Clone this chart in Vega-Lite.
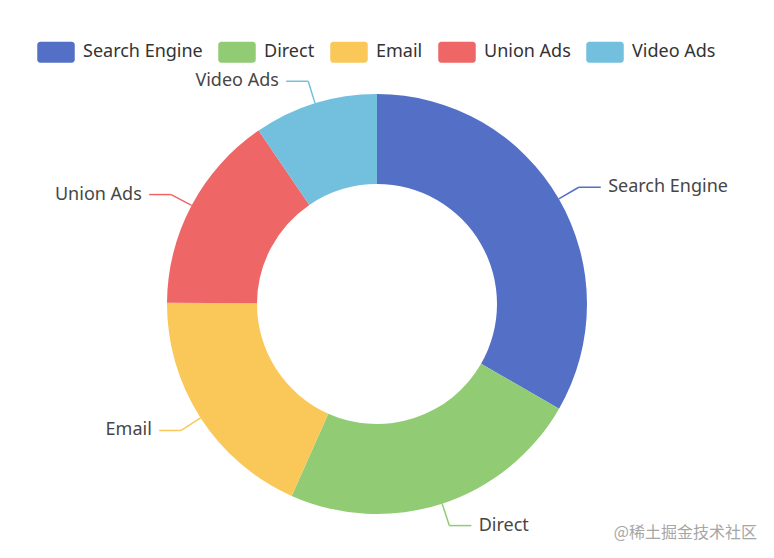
{
  "$schema": "https://vega.github.io/schema/vega-lite/v6.json",
  "description": "Doughnut chart of traffic sources with outside labels",
  "autosize": "none",
  "width": 754,
  "height": 508,
  "padding": {"left": 0, "top": 50, "right": 20, "bottom": 0},
  "background": "white",
  "config": {
    "view": {"stroke": null},
    "font": "Noto Sans",
    "legend": {
      "orient": "none",
      "direction": "horizontal",
      "legendX": 37,
      "legendY": -17,
      "padding": 0,
      "title": null,
      "symbolType": "M-0.84,-0.56H0.84A0.16,0.16 0 0 1 1,-0.4V0.4A0.16,0.16 0 0 1 0.84,0.56H-0.84A0.16,0.16 0 0 1 -1,0.4V-0.4A0.16,0.16 0 0 1 -0.84,-0.56Z",
      "symbolSize": 1406,
      "symbolStrokeWidth": 0,
      "symbolOpacity": 1,
      "labelFontSize": 18,
      "labelColor": "#333333",
      "labelOffset": 8,
      "columnPadding": 15,
      "labelFont": "Noto Sans"
    }
  },
  "layer": [
    {
      "data": {
        "values": [
          {"category": "Search Engine", "value": 1048},
          {"category": "Direct", "value": 735},
          {"category": "Email", "value": 580},
          {"category": "Union Ads", "value": 484},
          {"category": "Video Ads", "value": 300}
        ]
      },
      "transform": [
        {"window": [{"op": "row_number", "as": "idx"}]},
        {"joinaggregate": [{"op": "sum", "field": "value", "as": "total"}]},
        {"window": [{"op": "sum", "field": "value", "as": "cum"}], "sort": [{"field": "idx"}], "frame": [null, 0]},
        {"calculate": "2*PI*(datum.cum-datum.value)/datum.total", "as": "a0"},
        {"calculate": "2*PI*datum.cum/datum.total", "as": "a1"},
        {"calculate": "(datum.a0+datum.a1)/2", "as": "mid"},
        {"calculate": "sin(datum.mid)", "as": "ux"},
        {"calculate": "cos(datum.mid)", "as": "uy"},
        {"calculate": "datum.ux>0?1:-1", "as": "side"},
        {"calculate": "datum.ux*1.11", "as": "bx"},
        {"calculate": "datum.uy*1.11", "as": "by"},
        {"calculate": "datum.bx+datum.side*0.105", "as": "hx"},
        {"calculate": "datum.hx+datum.side*0.035", "as": "tx"}
      ],
      "layer": [
        {
          "mark": {"type": "arc", "outerRadius": 210, "innerRadius": 120},
          "encoding": {
            "theta": {"field": "a0", "type": "quantitative", "scale": null},
            "theta2": {"field": "a1"},
            "color": {
              "field": "category",
              "type": "nominal",
              "sort": null,
              "scale": {
                "domain": ["Search Engine", "Direct", "Email", "Union Ads", "Video Ads"],
                "range": ["#5470c6", "#91cc75", "#fac858", "#ee6666", "#73c0de"]
              }
            }
          }
        },
        {
          "mark": {"type": "rule", "strokeWidth": 1.5},
          "encoding": {
            "x": {"field": "ux", "type": "quantitative", "scale": {"domain": [-1.79524, 1.79524], "nice": false, "zero": false}, "axis": null},
            "y": {"field": "uy", "type": "quantitative", "scale": {"domain": [-1.20952, 1.20952], "nice": false, "zero": false}, "axis": null},
            "x2": {"field": "bx"},
            "y2": {"field": "by"},
            "color": {"field": "category", "type": "nominal", "sort": null}
          }
        },
        {
          "mark": {"type": "rule", "strokeWidth": 1.5},
          "encoding": {
            "x": {"field": "bx", "type": "quantitative", "scale": {"domain": [-1.79524, 1.79524], "nice": false, "zero": false}, "axis": null},
            "y": {"field": "by", "type": "quantitative", "scale": {"domain": [-1.20952, 1.20952], "nice": false, "zero": false}, "axis": null},
            "x2": {"field": "hx"},
            "color": {"field": "category", "type": "nominal", "sort": null}
          }
        },
        {
          "mark": {
            "type": "text",
            "fontSize": 18,
            "color": "#464646",
            "baseline": "middle",
            "align": {"expr": "datum.side > 0 ? 'left' : 'right'"}
          },
          "encoding": {
            "x": {"field": "tx", "type": "quantitative", "scale": {"domain": [-1.79524, 1.79524], "nice": false, "zero": false}, "axis": null},
            "y": {"field": "by", "type": "quantitative", "scale": {"domain": [-1.20952, 1.20952], "nice": false, "zero": false}, "axis": null},
            "text": {"field": "category", "type": "nominal"}
          }
        }
      ]
    },
    {
      "data": {"values": [{"mark": "@稀土掘金技术社区", "px": 1.8095, "py": -1.0905}]},
      "mark": {
        "type": "text",
        "font": "Noto Sans CJK SC",
        "fontSize": 16,
        "color": "#a6a6a6",
        "align": "right",
        "baseline": "middle"
      },
      "encoding": {
        "x": {"field": "px", "type": "quantitative", "scale": {"domain": [-1.79524, 1.79524], "nice": false, "zero": false}, "axis": null},
        "y": {"field": "py", "type": "quantitative", "scale": {"domain": [-1.20952, 1.20952], "nice": false, "zero": false}, "axis": null},
        "text": {"field": "mark", "type": "nominal"}
      }
    }
  ]
}
